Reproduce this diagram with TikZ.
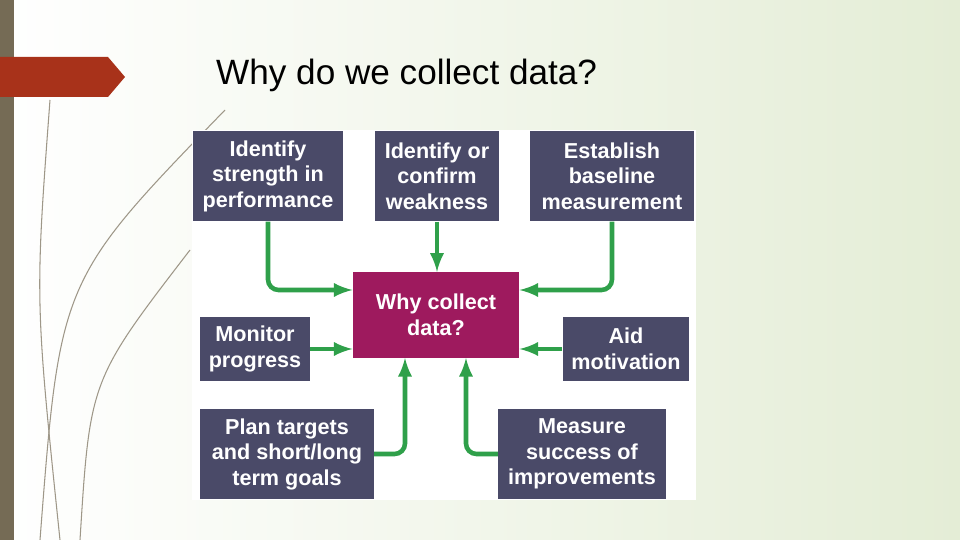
\documentclass[tikz,border=0pt]{standalone}
\usepackage{fontspec}
\setmainfont{Liberation Sans}
\usetikzlibrary{positioning}
\definecolor{slatebox}{HTML}{4A4A68}
\definecolor{whybox}{HTML}{9E1A5E}
\definecolor{arrowgreen}{HTML}{2FA04A}
\definecolor{bgtint}{HTML}{E4EDD6}
\definecolor{barbrown}{HTML}{756B55}
\definecolor{tabred}{HTML}{A8321A}
\begin{document}
\begin{tikzpicture}[x=0.02cm, y=-0.02cm, >=latex]
    \tikzstyle{card}=[fill=slatebox, text=white, font=\bfseries\fontsize{12.3}{14.5}\selectfont, align=center, inner sep=0pt]
    \tikzstyle{link}=[draw=arrowgreen, line width=2.6pt, ->, rounded corners=6pt]

    \useasboundingbox (0,0) rectangle (960,540);
    \shade[left color=white, right color=bgtint] (0,0) rectangle (960,540);
    \fill[barbrown] (0,0) rectangle (14,540);
    \fill[tabred] (0,57) -- (108,57) -- (125,77) -- (108,97) -- (0,97) -- cycle;
    \draw[barbrown!70, line width=0.6pt] (50,100) .. controls (35,300) .. (60,540);
    \draw[barbrown!70, line width=0.6pt] (225,110) .. controls (60,280) .. (40,540);
    \draw[barbrown!70, line width=0.6pt] (190,250) .. controls (90,380) .. (80,540);
    \node[anchor=west, font=\fontsize{20}{24}\selectfont] (title) at (210,75) {Why do we collect data?};

    \fill[white] (192,130) rectangle (696,500);

    \node[card, minimum width=150*0.567pt, minimum height=91*0.567pt] (strength) at (268,176) {Identify\\strength in\\performance};
    \node[card, minimum width=125*0.567pt, minimum height=91*0.567pt] (weakness) at (437,176) {Identify or\\confirm\\weakness};
    \node[card, minimum width=164*0.567pt, minimum height=91*0.567pt] (baseline) at (612,176) {Establish\\baseline\\measurement};
    \node[card, fill=whybox, minimum width=167*0.567pt, minimum height=86*0.567pt] (why) at (436,315) {Why collect\\data?};
    \node[card, minimum width=110*0.567pt, minimum height=64*0.567pt] (monitor) at (255,349) {Monitor\\progress};
    \node[card, minimum width=127*0.567pt, minimum height=64*0.567pt] (aid) at (626,349) {Aid\\motivation};
    \node[card, minimum width=174*0.567pt, minimum height=90*0.567pt] (plan) at (287,454) {Plan targets\\and short/long\\term goals};
    \node[card, minimum width=168*0.567pt, minimum height=90*0.567pt] (measure) at (582,454) {Measure\\success of\\improvements};

    \draw[link] (strength.south) |- (why.west |- 0,290);
    \draw[link] (weakness.south) -- (weakness.south |- why.north);
    \draw[link] (baseline.south) |- (why.east |- 0,290);
    \draw[link] (monitor.east) -- (why.west |- monitor.east);
    \draw[link] (aid.west) -- (why.east |- aid.west);
    \draw[link] (plan.east) -| (405,358);
    \draw[link] (measure.west) -| (466,358);
\end{tikzpicture}
\end{document}
